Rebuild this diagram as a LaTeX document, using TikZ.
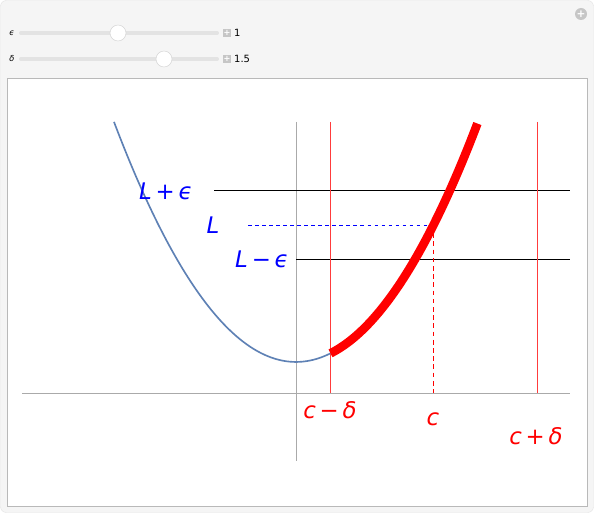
\documentclass[tikz,border=0pt]{standalone}
\usepackage{fontspec}
\setmainfont{DejaVu Sans}
\definecolor{curveblue}{RGB}{94,129,181}
\definecolor{panelgray}{RGB}{245,245,245}
\definecolor{axisgray}{RGB}{170,170,170}
\definecolor{redline}{RGB}{255,60,60}

\begin{document}
\begin{tikzpicture}[x=0.03cm, y=-0.03cm]
\tikzset{
  lbl/.style={font=\fontsize{19.5}{22}\selectfont\itshape, inner sep=0pt},
  track/.style={line width=3.4pt, draw=gray!22, line cap=round},
  knob/.style={circle, fill=white, draw=gray!35, minimum size=0.48cm, inner sep=0pt},
  plusbox/.style={fill=gray!45, minimum size=0.25cm, inner sep=0pt, text=white, font=\fontsize{7}{7}\selectfont\bfseries},
  small/.style={font=\fontsize{8.5}{9}\selectfont, inner sep=0pt}
}
\useasboundingbox (0,0) rectangle (594,513);
% panel
\filldraw[fill=panelgray, draw=gray!20, rounded corners=5] (0.5,0.5) rectangle (593.5,512.5);
\node[circle, fill=gray!45, minimum size=0.36cm, inner sep=0pt, text=white, font=\fontsize{9}{9}\selectfont\bfseries] (menu) at (581,14) {+};

% sliders
\node[small, font=\fontsize{7}{8}\selectfont\itshape] (epslbl) at (12,33) {ϵ};
\draw[track] (21,33) -- (217,33);
\node[knob] (epsknob) at (118,33) {};
\node[plusbox] (epsplus) at (227,33) {+};
\node[small, anchor=west] (epsval) at (234,33) {1};

\node[small, font=\fontsize{7}{8}\selectfont\itshape] (dellbl) at (12,59) {δ};
\draw[track] (21,59) -- (217,59);
\node[knob] (delknob) at (164,59) {};
\node[plusbox] (delplus) at (227,59) {+};
\node[small, anchor=west] (delval) at (234,59) {1.5};

% plot area
\filldraw[fill=white, draw=gray!55] (7,78) rectangle (587,506);

% axes
\coordinate (xl) at (22,393);
\coordinate (xr) at (570,393);
\coordinate (yt) at (296,122);
\coordinate (yb) at (296,461);
\draw[axisgray, line width=0.7pt] (xl) -- (xr);
\draw[axisgray, line width=0.7pt] (yt) -- (yb);

% epsilon band
\coordinate (Lpa) at (214,190);
\coordinate (Lpb) at (570,190);
\coordinate (La) at (248,225);
\coordinate (Lb) at (433,225);
\coordinate (Lma) at (296,259);
\coordinate (Lmb) at (570,259);
\draw[black, line width=0.8pt] (Lpa) -- (Lpb);
\draw[black, line width=0.8pt] (Lma) -- (Lmb);
\draw[blue, line width=0.7pt, dash pattern=on 3pt off 3pt] (La) -- (Lb);

% delta band
\coordinate (cmt) at (330,122);
\coordinate (cmb) at (330,393);
\coordinate (cpt) at (537,122);
\coordinate (cpb) at (537,393);
\coordinate (cb) at (433,393);
\draw[redline, line width=0.8pt] (cmt) -- (cmb);
\draw[redline, line width=0.8pt] (cpt) -- (cpb);
\draw[red, line width=0.8pt, dash pattern=on 4pt off 3pt] (Lb) -- (cb);

% f(x) = x^2 + 0.9
\draw[curveblue, line width=1.4pt, domain=-2.638:0.5, samples=80]
  plot ({296+69*\x},{393-34.5*(\x*\x+0.9)});
\draw[red, line width=7.4pt, domain=0.5:2.63, samples=80]
  plot ({296+69*\x},{393-34.5*(\x*\x+0.9)});

% labels
\node[lbl, text=blue] (lplus) at (166,191) {L\,+\,ϵ};
\node[lbl, text=blue] (lmid) at (213,225) {L};
\node[lbl, text=blue] (lminus) at (262,259) {L\,−\,ϵ};
\node[lbl, text=red] (cminus) at (330,410) {c\,−\,δ};
\node[lbl, text=red] (cmid) at (433,419) {c};
\node[lbl, text=red] (cplus) at (536,436) {c\,+\,δ};
\end{tikzpicture}
\end{document}
